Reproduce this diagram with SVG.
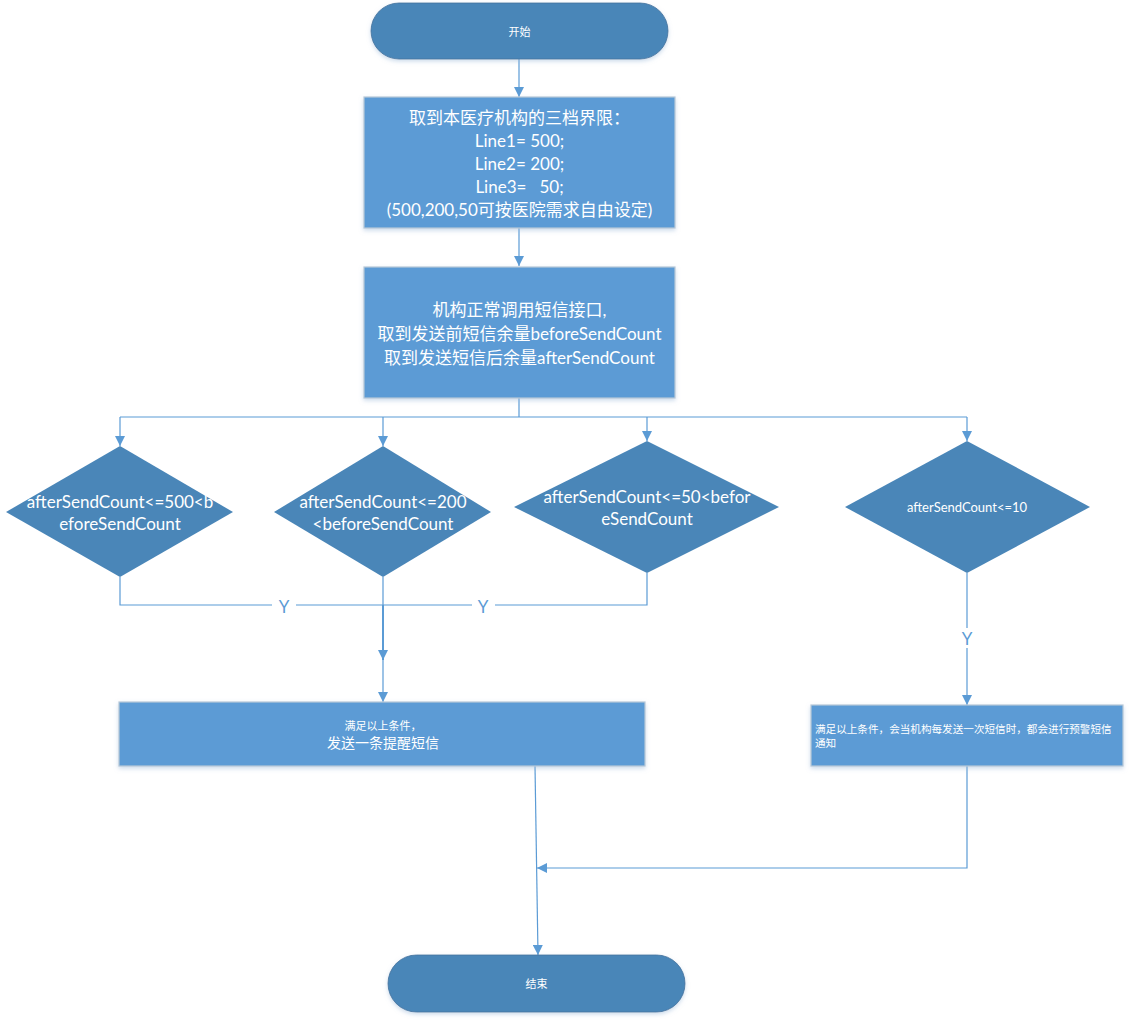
<svg xmlns="http://www.w3.org/2000/svg" width="1129" height="1020" viewBox="0 0 1129 1020">
<style>
.term{fill:#4a86b8;stroke:#41719c;stroke-width:0.8}
.box{fill:#5b9bd5;stroke:#b8c8d8;stroke-width:1.2}
.dia{fill:#4a86b8;stroke:none}
.t{fill:#ffffff;font-family:Lato,"Noto Sans CJK SC",sans-serif;text-anchor:middle;dominant-baseline:central}
.l17{font-size:17px}
.s11{font-size:11px}
.c{fill:none;stroke:#5b9bd5;stroke-width:1.2}
.y{fill:#5b9bd5;font-family:Lato,sans-serif;font-size:17px;text-anchor:middle;dominant-baseline:central}
</style>
<defs>
<marker id="ah" viewBox="0 0 10 10" refX="10" refY="5" markerWidth="10" markerHeight="10" markerUnits="userSpaceOnUse" orient="auto">
<path d="M0,0 L10,5 L0,10 z" fill="#5b9bd5"/>
</marker>
<filter id="sh" x="-5%" y="-10%" width="110%" height="130%">
<feDropShadow dx="0" dy="2" stdDeviation="2" flood-color="#9ab8d8" flood-opacity="0.5"/>
</filter>
</defs>
<rect width="1129" height="1020" fill="#ffffff"/>
<g id="connectors">
<path class="c" d="M519,59 V97" marker-end="url(#ah)"/>
<path class="c" d="M519,228 V266" marker-end="url(#ah)"/>
<path class="c" d="M519,398 V417"/>
<path class="c" d="M120,417 H967"/>
<path class="c" d="M120,417 V446" marker-end="url(#ah)"/>
<path class="c" d="M383,417 V446" marker-end="url(#ah)"/>
<path class="c" d="M647,417 V441" marker-end="url(#ah)"/>
<path class="c" d="M967,417 V441" marker-end="url(#ah)"/>
<path class="c" d="M120,577 V605 H272"/>
<path class="c" d="M296,605 H472"/>
<path class="c" d="M495,605 H647 V573"/>
<path class="c" d="M383,577 V605"/>
<path class="c" style="stroke-width:2" d="M383,605 V660" marker-end="url(#ah)"/>
<path class="c" d="M383,660 V702" marker-end="url(#ah)"/>
<path class="c" d="M967,573 V628"/>
<path class="c" d="M967,648 V705" marker-end="url(#ah)"/>
<path class="c" d="M535,766 L538,955" marker-end="url(#ah)"/>
<path class="c" d="M967,766 V868 H537" marker-end="url(#ah)"/>
<text class="y" x="284" y="606">Y</text>
<text class="y" x="483" y="606">Y</text>
<text class="y" x="967" y="638">Y</text>
</g>
<g id="start">
<rect class="term" x="371" y="3" width="297" height="56" rx="28" filter="url(#sh)"/>
<text class="t s11" x="519.5" y="31">开始</text>
</g>
<g id="box1">
<rect class="box" x="364" y="97" width="311" height="131" filter="url(#sh)"/>
<text class="t l17" x="519.5" y="117">取到本医疗机构的三档界限：</text>
<text class="t l17" x="519.5" y="140">Line1= 500;</text>
<text class="t l17" x="519.5" y="163">Line2= 200;</text>
<text class="t l17" x="519.5" y="186" xml:space="preserve">Line3=   50;</text>
<text class="t l17" x="519.5" y="209">(500,200,50可按医院需求自由设定)</text>
</g>
<g id="box2">
<rect class="box" x="364" y="267" width="311" height="131" filter="url(#sh)"/>
<text class="t l17" x="519.5" y="309">机构正常调用短信接口,</text>
<text class="t l17" x="519.5" y="333">取到发送前短信余量beforeSendCount</text>
<text class="t l17" x="519.5" y="357">取到发送短信后余量afterSendCount</text>
</g>
<g id="d1">
<polygon class="dia" points="120,446 233,512 120,577 6,512"/>
<text class="t l17" x="120" y="501">afterSendCount&lt;=500&lt;b</text>
<text class="t l17" x="120" y="523">eforeSendCount</text>
</g>
<g id="d2">
<polygon class="dia" points="383,446 491,512 383,577 274,512"/>
<text class="t l17" x="383" y="501">afterSendCount&lt;=200</text>
<text class="t l17" x="383" y="523">&lt;beforeSendCount</text>
</g>
<g id="d3">
<polygon class="dia" points="647,441 779,507 647,573 514,507"/>
<text class="t l17" x="647" y="496">afterSendCount&lt;=50&lt;befor</text>
<text class="t l17" x="647" y="518">eSendCount</text>
</g>
<g id="d4">
<polygon class="dia" points="967,441 1090,507 967,573 845,507"/>
<text class="t" style="font-size:13px" x="967" y="507">afterSendCount&lt;=10</text>
</g>
<g id="box3">
<rect class="box" x="119" y="702" width="526" height="64" filter="url(#sh)"/>
<text class="t s11" x="383" y="725">满足以上条件，</text>
<text class="t" style="font-size:14px" x="383" y="742">发送一条提醒短信</text>
</g>
<g id="box4">
<rect class="box" x="811" y="705" width="312" height="61" filter="url(#sh)"/>
<text class="t" style="text-anchor:start;font-size:10.6px" x="815" y="729">满足以上条件，会当机构每发送一次短信时，都会进行预警短信</text>
<text class="t" style="text-anchor:start;font-size:10.6px" x="815" y="743">通知</text>
</g>
<g id="end">
<rect class="term" x="388" y="955" width="297" height="57" rx="28.5" filter="url(#sh)"/>
<text class="t s11" x="536.5" y="983">结束</text>
</g>
</svg>
